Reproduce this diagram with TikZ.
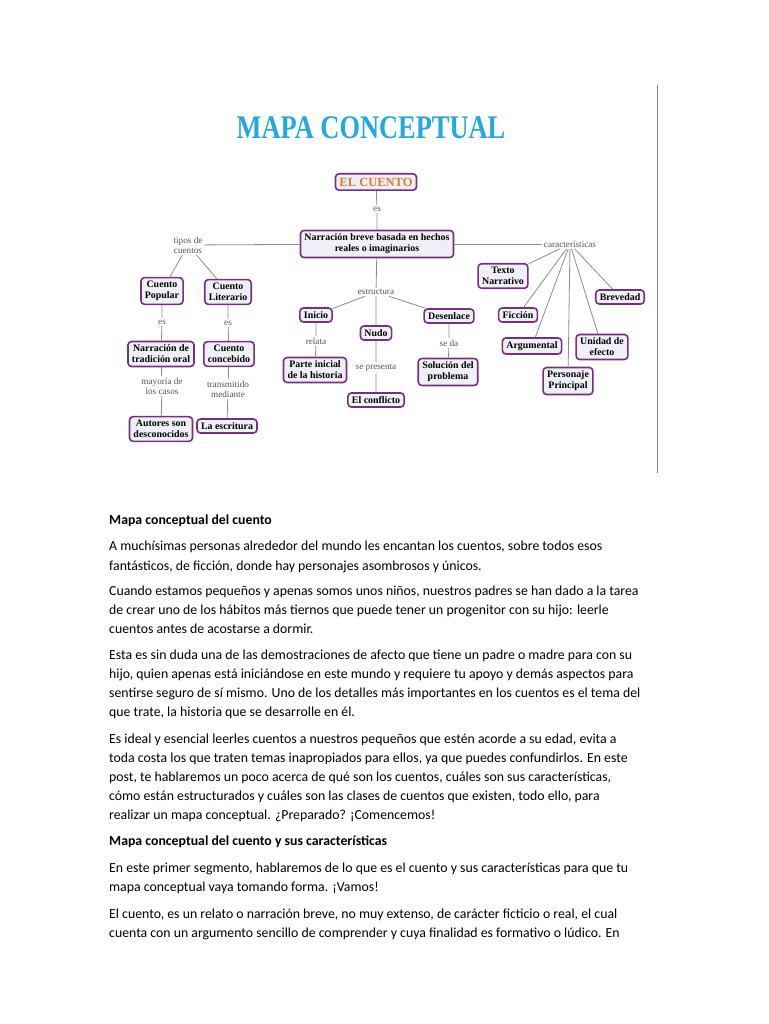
\documentclass[tikz,border=0pt]{standalone}
\usepackage{fontspec}
\setmainfont{Carlito}
\newfontfamily\mapserif{Liberation Serif}
\usetikzlibrary{positioning}
\definecolor{mapcyan}{RGB}{34,170,224}
\definecolor{mappurple}{RGB}{118,48,128}
\definecolor{mapfill}{RGB}{238,240,246}
\definecolor{mapgray}{RGB}{140,140,140}
\definecolor{maporange}{RGB}{224,122,48}
\definecolor{labelgray}{RGB}{85,85,85}

\begin{document}
\begin{tikzpicture}[x=1pt, y=-1pt,
    concept/.style={draw=mappurple, line width=1.6pt, rounded corners=3.5pt, fill=mapfill,
        inner xsep=4pt, inner ysep=3.5pt, align=center, font=\mapserif\bfseries\fontsize{9.9}{11}\selectfont},
    linklabel/.style={inner sep=1.5pt, align=center, text=labelgray,
        font=\mapserif\fontsize{9.2}{9.8}\selectfont},
    link/.style={draw=mapgray, line width=0.8pt},
    bodytext/.style={anchor=base west, inner sep=0pt, font=\fontsize{13.8}{16}\selectfont}]
    \fill[white] (0,0) rectangle (768,1024);
    \useasboundingbox (0,0) rectangle (768,1024);

    % title
    \node[text=mapcyan, font=\mapserif\bfseries\fontsize{33}{35}\selectfont] (title) at (371,128)
        {\scalebox{0.8}[1]{MAPA CONCEPTUAL}};

    % concept map
    \node[concept, text=maporange, inner ysep=4pt, font=\mapserif\bfseries\fontsize{12.5}{13}\selectfont] (cuento) at (376,182) {EL CUENTO};
    \node[linklabel] (es1) at (377,209) {es};
    \node[concept] (narr) at (377,244) {Narración breve basada en hechos\\reales o imaginarios};

    \node[linklabel] (tipos) at (188,245) {tipos de\\cuentos};
    \node[concept] (pop) at (162,291) {Cuento\\Popular};
    \node[concept] (lit) at (228,292) {Cuento\\Literario};
    \node[linklabel] (es2) at (162,322) {es};
    \node[linklabel] (es3) at (228,323) {es};
    \node[concept] (oral) at (161,354) {Narración de\\tradición oral};
    \node[concept] (conc) at (229,354) {Cuento\\concebido};
    \node[linklabel] (mayor) at (162,386) {mayoría de\\los casos};
    \node[linklabel] (trans) at (228,389) {transmitido\\mediante};
    \node[concept] (autor) at (161,429) {Autores son\\desconocidos};
    \node[concept] (escr) at (227,426) {La escritura};

    \node[linklabel] (estr) at (376,292) {estructura};
    \node[concept] (ini) at (316,315) {Inicio};
    \node[concept] (nudo) at (376,333) {Nudo};
    \node[concept] (desen) at (449,316) {Desenlace};
    \node[linklabel] (relata) at (316,341) {relata};
    \node[concept] (parte) at (315,370) {Parte inicial\\de la historia};
    \node[linklabel] (sepres) at (376,368) {se presenta};
    \node[concept] (confl) at (376,400) {El conflicto};
    \node[linklabel] (seda) at (449,343) {se da};
    \node[concept] (sol) at (448,372) {Solución del\\problema};

    \node[linklabel] (car) at (570,244) {características};
    \node[concept] (texto) at (503,276) {Texto\\Narrativo};
    \node[concept] (brev) at (620,297) {Brevedad};
    \node[concept] (fic) at (518,315) {Ficción};
    \node[concept] (arg) at (532,346) {Argumental};
    \node[concept] (unid) at (602,347) {Unidad de\\efecto};
    \node[concept] (pers) at (568,381) {Personaje\\Principal};

    \draw[link] (cuento) -- (es1) -- (narr);
    \draw[link] (narr) -- (tipos);
    \draw[link] (tipos) -- (pop);
    \draw[link] (tipos) -- (lit);
    \draw[link] (pop) -- (es2) -- (oral) -- (mayor) -- (autor);
    \draw[link] (lit) -- (es3) -- (conc) -- (trans) -- (escr);
    \draw[link] (narr) -- (estr) -- (nudo) -- (sepres) -- (confl);
    \draw[link] (estr) -- (ini) -- (relata) -- (parte);
    \draw[link] (estr) -- (desen) -- (seda) -- (sol);
    \draw[link] (narr) -- (car);
    \foreach \n in {texto, fic, arg, pers, unid, brev}
        \draw[link] (car) -- (\n);

    % page rule
    \coordinate (ruletop) at (657,85);
    \coordinate (rulebot) at (657,473);
    \draw[gray, line width=0.8pt] (ruletop) -- (rulebot);

    % body text
    \node[bodytext, font=\fontsize{13.8}{16}\selectfont\bfseries] (head1) at (109,524) {Mapa conceptual del cuento};
    \foreach \y/\t [count=\i] in {
        550/{A muchísimas personas alrededor del mundo les encantan los cuentos, sobre todos esos},
        570/{fantásticos, de ficción, donde hay personajes asombrosos y únicos.},
        595/{Cuando estamos pequeños y apenas somos unos niños, nuestros padres se han dado a la tarea},
        614/{de crear uno de los hábitos más tiernos que puede tener un progenitor con su hijo: leerle},
        633/{cuentos antes de acostarse a dormir.},
        659/{Esta es sin duda una de las demostraciones de afecto que tiene un padre o madre para con su},
        678/{hijo, quien apenas está iniciándose en este mundo y requiere tu apoyo y demás aspectos para},
        697/{sentirse seguro de sí mismo. Uno de los detalles más importantes en los cuentos es el tema del},
        716/{que trate, la historia que se desarrolle en él.},
        743/{Es ideal y esencial leerles cuentos a nuestros pequeños que estén acorde a su edad, evita a},
        762/{toda costa los que traten temas inapropiados para ellos, ya que puedes confundirlos. En este},
        781/{post, te hablaremos un poco acerca de qué son los cuentos, cuáles son sus características,},
        800/{cómo están estructurados y cuáles son las clases de cuentos que existen, todo ello, para},
        819/{realizar un mapa conceptual. ¿Preparado? ¡Comencemos!},
        872/{En este primer segmento, hablaremos de lo que es el cuento y sus características para que tu},
        891/{mapa conceptual vaya tomando forma. ¡Vamos!},
        918/{El cuento, es un relato o narración breve, no muy extenso, de carácter ficticio o real, el cual},
        937/{cuenta con un argumento sencillo de comprender y cuya finalidad es formativo o lúdico. En}}
        \node[bodytext] (line\i) at (109,\y) {\t};
    \node[bodytext, font=\fontsize{13.8}{16}\selectfont\bfseries] (head2) at (109,845) {Mapa conceptual del cuento y sus características};
\end{tikzpicture}
\end{document}
